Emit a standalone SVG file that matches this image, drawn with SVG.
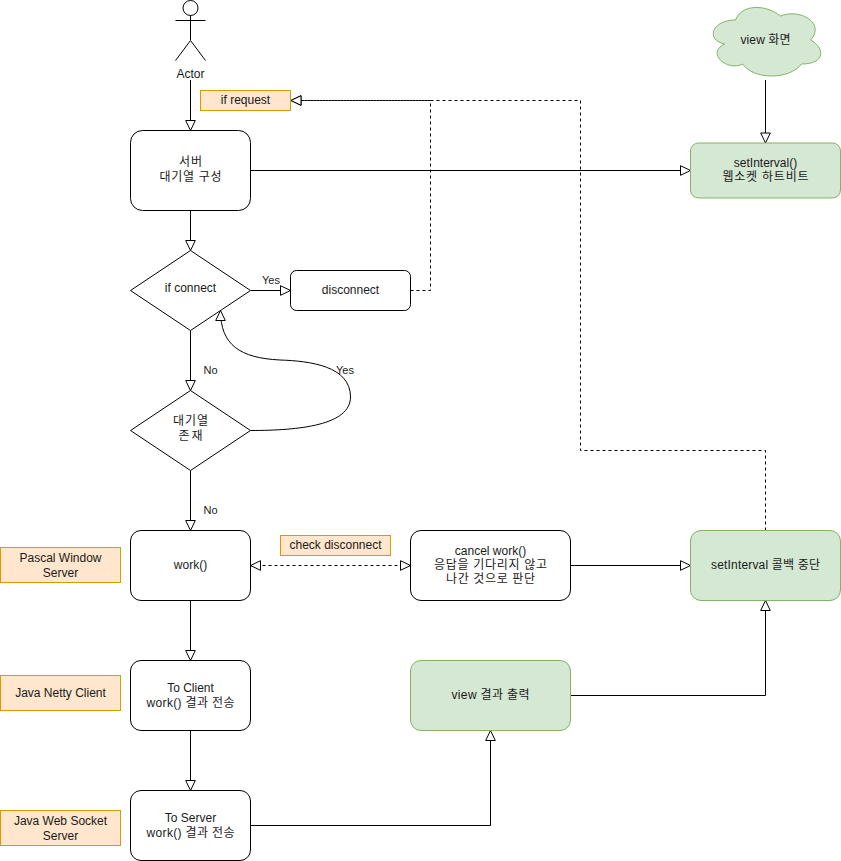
<svg xmlns="http://www.w3.org/2000/svg" width="841" height="861" viewBox="0 0 841 861">
<style>
text{font-family:"Liberation Sans","Noto Sans CJK KR",sans-serif;font-size:12px;fill:#1a1a1a;text-anchor:middle}
text.e{font-size:11px}
.n{fill:#fff;stroke:#000;stroke-width:1}
.g{fill:#d5e8d4;stroke:#82b366;stroke-width:1}
.o{fill:#ffe6cc;stroke:#d79b00;stroke-width:1}
.c{fill:none;stroke:#000;stroke-width:1;marker-end:url(#a)}
.d{stroke-dasharray:3 3}
</style>
<defs>
<marker id="a" markerUnits="userSpaceOnUse" viewBox="0 0 12 12" refX="11" refY="6" markerWidth="12" markerHeight="12" orient="auto-start-reverse">
<path d="M1 1.2L11 6L1 10.800Z" fill="#fff" stroke="#000" stroke-dasharray="none"/>
</marker>
</defs>
<rect width="841" height="861" fill="#fff"/>
<g id="connectors">
<path class="c" d="M190.500 80V130.500"/>
<path class="c" d="M250.500 170.500H690.500"/>
<path class="c" d="M765.500 80V143"/>
<path class="c" d="M190.500 210.500V250.500"/>
<path class="c" d="M250.500 290.500H290.500"/>
<path class="c" d="M190.500 330.500V390.500"/>
<path class="c" d="M250.500 430.500C300 430.500 350.500 425 350.500 397C350.500 366 310 361 280 360C240 358 220.500 345 220.500 310.500"/>
<path class="c" d="M190.500 470.500V530.500"/>
<path class="c" d="M190.500 600.500V660.500"/>
<path class="c" d="M190.500 730.500V790.500"/>
<path class="c" d="M250.500 825.500H490.500V730.500"/>
<path class="c" d="M570.500 565.500H690.500"/>
<path class="c" d="M570.500 695.500H765.500V600.500"/>
<path class="c d" d="M250.500 565.500H410.500" style="marker-start:url(#a)"/>
<path class="c d" d="M410.500 290.500H430.500V100.500H291"/>
<path class="c d" d="M765.500 530.500V450.500H580.500V100.500H291"/>
</g>
<text class="e" x="271" y="284">Yes</text>
<text class="e" x="210.500" y="374">No</text>
<text class="e" x="345" y="374">Yes</text>
<text class="e" x="210.500" y="514">No</text>
<g id="actor">
<g fill="none" stroke="#000"><circle cx="190.500" cy="8" r="7.500" fill="#fff"/><path d="M190.500 15.500V40M175.500 20.500H205.500M175.500 60.500L190.500 40.500L205.500 60.500"/></g>
<text x="190.500" y="78">Actor</text>
</g>
<g id="if-request"><rect class="o" x="200.500" y="90.500" width="90" height="20"/><text x="245.500" y="104">if request</text></g>
<g id="server"><rect class="n" x="130.500" y="130.500" width="120" height="80" rx="12"/><text x="190.500" y="166" textLength="23">서버</text><text x="190.500" y="181" textLength="62">대기열 구성</text></g>
<g id="view-screen"><path class="g" d="M735.500 20C711.500 20 705.500 40 724.700 44C705.500 52.800 727.100 72 742.700 64C753.500 80 789.500 80 801.500 64C825.500 64 825.500 48 810.500 40C825.500 24 801.500 8 780.500 16C765.500 4 741.500 4 735.500 20Z"/><text x="765.500" y="44" textLength="50">view 화면</text></g>
<g id="set-interval"><rect class="g" x="690.500" y="143" width="150" height="55" rx="8"/><text x="765.500" y="167">setInterval()</text><text x="765.500" y="181" textLength="86">웹소켓 하트비트</text></g>
<g id="if-connect"><path class="n" d="M190.500 250.500L250.500 290.500L190.500 330.500L130.500 290.500Z"/><text x="190.500" y="292">if connect</text></g>
<g id="disconnect"><rect class="n" x="290.500" y="270.500" width="120" height="40" rx="6"/><text x="350.500" y="294">disconnect</text></g>
<g id="queue-exists"><path class="n" d="M190.500 390.500L250.500 430.500L190.500 470.500L130.500 430.500Z"/><text x="190.500" y="425" textLength="35">대기열</text><text x="190.500" y="440" textLength="24">존재</text></g>
<g id="pascal"><rect class="o" x="0.500" y="547.500" width="120" height="35"/><text x="60.500" y="562">Pascal Window</text><text x="60.500" y="577">Server</text></g>
<g id="work"><rect class="n" x="130.500" y="530.500" width="120" height="70" rx="10.500"/><text x="190.500" y="569">work()</text></g>
<g id="check-disconnect"><rect class="o" x="280.500" y="535.500" width="110" height="20"/><text x="335.500" y="549">check disconnect</text></g>
<g id="cancel-work"><rect class="n" x="410.500" y="530.500" width="160" height="70" rx="10.500"/><text x="490.500" y="555">cancel work()</text><text x="490.500" y="569" textLength="113">응답을 기다리지 않고</text><text x="490.500" y="583" textLength="89">나간 것으로 판단</text></g>
<g id="callback-stop"><rect class="g" x="690.500" y="530.500" width="150" height="70" rx="10.500"/><text x="765.500" y="569" textLength="109">setInterval 콜백 중단</text></g>
<g id="netty"><rect class="o" x="0.500" y="675.500" width="120" height="35"/><text x="60.500" y="697">Java Netty Client</text></g>
<g id="to-client"><rect class="n" x="130.500" y="660.500" width="120" height="70" rx="10.500"/><text x="190.500" y="692">To Client</text><text x="190.500" y="707" textLength="88">work() 결과 전송</text></g>
<g id="view-result"><rect class="g" x="410.500" y="660.500" width="160" height="70" rx="10.500"/><text x="490.500" y="699" textLength="78">view 결과 출력</text></g>
<g id="websocket"><rect class="o" x="0.500" y="810.500" width="120" height="35"/><text x="60.500" y="825">Java Web Socket</text><text x="60.500" y="840">Server</text></g>
<g id="to-server"><rect class="n" x="130.500" y="790.500" width="120" height="70" rx="10.500"/><text x="190.500" y="822">To Server</text><text x="190.500" y="837" textLength="88">work() 결과 전송</text></g>
</svg>
